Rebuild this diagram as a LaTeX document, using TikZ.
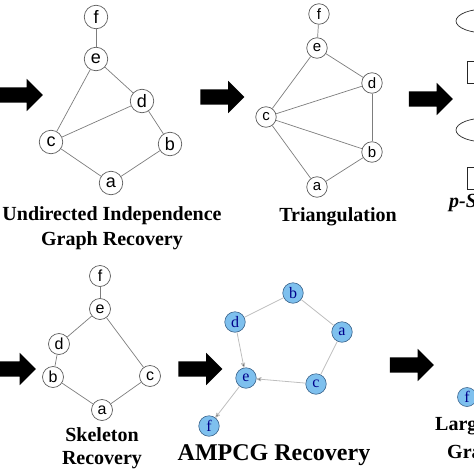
\documentclass[tikz,border=0pt]{standalone}
\usepackage{fontspec}
\setmainfont{Liberation Serif}
\newfontfamily\nodefont{Liberation Sans}
\usepackage{tikz}
\usetikzlibrary{arrows}
\usetikzlibrary{positioning}
\usetikzlibrary{shapes.geometric,shapes.arrows}

\definecolor{nodegray}{RGB}{95,95,95}
\definecolor{edgegray}{RGB}{125,125,125}
\definecolor{lightedge}{RGB}{190,190,190}
\definecolor{skyblue}{RGB}{126,192,238}
\definecolor{frameblue}{RGB}{60,100,140}
\definecolor{labelblue}{RGB}{0,0,139}

\begin{document}
\begin{tikzpicture}[x=1pt,y=-1pt,>=stealth',
  main node/.style={circle,draw=nodegray,fill=white,line width=0.7pt,inner sep=0pt},
  big node/.style={main node,minimum size=23.5pt,font=\nodefont\fontsize{18}{18}\selectfont},
  small node/.style={main node,minimum size=20.5pt,font=\nodefont\fontsize{15}{15}\selectfont},
  mid node/.style={main node,minimum size=21pt,font=\nodefont\fontsize{16}{16}\selectfont},
  blue node/.style={circle,draw=frameblue,fill=skyblue,line width=0.6pt,inner sep=0pt,
    minimum size=20.5pt,text=labelblue,font=\fontsize{16}{16}\selectfont},
  gray edge/.style={draw=edgegray,line width=0.7pt},
  light edge/.style={draw=lightedge,line width=0.8pt},
  title text/.style={inner sep=0pt,font=\bfseries\fontsize{20}{24}\selectfont},
  block arrow/.style={single arrow,fill=black,inner xsep=0pt,inner ysep=7.5pt,
    minimum height=44pt,single arrow head extend=8.5pt},
  tree clique/.style={ellipse,draw=black!85,line width=0.7pt,minimum width=60pt,minimum height=24pt},
  tree sep/.style={draw=black!85,line width=0.7pt,minimum width=30pt,minimum height=22pt,inner sep=0pt}]

  \useasboundingbox (0,0) rectangle (474,474);
  \clip (0,0) rectangle (474,474);

  % undirected independence graph
  \node[big node] (1f) at (96,17) {f};
  \node[big node] (1e) at (96,59) {e};
  \node[big node] (1d) at (142,101) {d};
  \node[big node] (1c) at (51,142) {c};
  \node[big node] (1b) at (170,144) {b};
  \node[big node] (1a) at (111,183) {a};
  \path[gray edge] (1f) edge (1e) (1e) edge (1d) (1e) edge (1c) (1c) edge (1d)
    (1d) edge (1b) (1c) edge (1a) (1a) edge (1b);

  % triangulation
  \node[small node] (2f) at (319,14) {f};
  \node[small node] (2e) at (317,48) {e};
  \node[small node] (2d) at (372,83) {d};
  \node[small node] (2c) at (266,117) {c};
  \node[small node] (2b) at (372,152) {b};
  \node[small node] (2a) at (317,187) {a};
  \path[gray edge] (2f) edge (2e) (2e) edge (2d) (2e) edge (2c) (2c) edge (2d)
    (2d) edge (2b) (2c) edge (2b) (2c) edge (2a) (2a) edge (2b);

  % separation tree
  \node[tree clique] (3k) at (486,21) {};
  \node[tree sep] (3s) at (482,72) {};
  \node[tree clique] (3m) at (486,130) {};
  \node[tree sep] (3r) at (482,178.5) {};

  % skeleton
  \node[mid node] (4f) at (100,276) {f};
  \node[mid node] (4e) at (100,309) {e};
  \node[mid node] (4d) at (59,344) {d};
  \node[mid node] (4b) at (53,377) {b};
  \node[mid node] (4c) at (150,376) {c};
  \node[mid node] (4a) at (102,410) {a};
  \path[gray edge] (4f) edge (4e) (4e) edge (4d) (4d) edge (4b) (4e) edge (4c)
    (4b) edge (4a) (4a) edge (4c);

  % ampcg
  \node[blue node] (5b) at (293,293) {b};
  \node[blue node] (5d) at (235,322) {d};
  \node[blue node] (5a) at (342,332) {a};
  \node[blue node] (5e) at (246,378) {e};
  \node[blue node] (5c) at (316,384) {c};
  \node[blue node] (5f) at (209,426) {f};
  \path[light edge] (5b) edge (5d) (5b) edge (5a) (5a) edge (5c)
    (5c) edge[->] (5e) (5d) edge[->] (5e) (5e) edge[->] (5f);

  \node[blue node,minimum size=19pt] (6f) at (467,397) {f};

  % arrows between steps
  \node[block arrow] (arr1) at (17,95) {};
  \node[block arrow] (arr2) at (218.5,97) {};
  \node[block arrow] (arr3) at (427,99) {};
  \node[block arrow] (arr4) at (10,369) {};
  \node[block arrow] (arr5) at (196.5,369) {};
  \node[block arrow] (arr6) at (408,365) {};

  % step names
  \node[title text] (1t) at (112,216) {Undirected Independence};
  \node[title text] (1u) [below=6pt of 1t] {Graph Recovery};
  \node[title text] (2t) at (338,217) {Triangulation};
  \node[title text,anchor=west] (3t) at (449,203) {\textit{p-Separation}};
  \node[title text] (4t) at (102,435) {Skeleton};
  \node[title text] (4u) [below=8.5pt of 4t] {Recovery};
  \node[title text,font=\bfseries\fontsize{24}{28}\selectfont] (5t) at (274,455) {AMPCG Recovery};
  \node[title text,anchor=west] (6t) at (435,426) {Largest};
  \node[title text,anchor=west] (6u) at (447,454) {Graph};
\end{tikzpicture}
\end{document}
